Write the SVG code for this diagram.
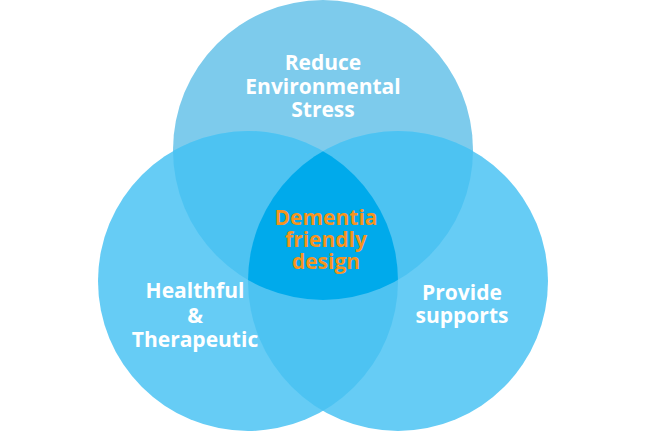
<svg xmlns="http://www.w3.org/2000/svg" width="648" height="432" viewBox="0 0 648 432">
<style>
.lbl{font-family:"Open Sans","Noto Sans","Liberation Sans",sans-serif;font-weight:700;font-size:21px;text-anchor:middle;fill:#ffffff}
.ctr{fill:#f7941d}
</style>
<defs>
<clipPath id="cT"><circle cx="323" cy="150" r="150"/></clipPath>
<clipPath id="cL"><circle cx="248" cy="281" r="150"/></clipPath>
<clipPath id="cR"><circle cx="398" cy="281" r="150"/></clipPath>
</defs>
<rect width="648" height="432" fill="#ffffff"/>
<g id="circle-top"><circle cx="323" cy="150" r="150" fill="#7dcbec"/></g>
<g id="circle-left"><circle cx="248" cy="281" r="150" fill="#66ccf5"/></g>
<g id="circle-right"><circle cx="398" cy="281" r="150" fill="#66ccf5"/></g>
<g id="overlaps">
<g clip-path="url(#cT)"><circle cx="248" cy="281" r="150" fill="#4dc3f2"/><circle cx="398" cy="281" r="150" fill="#4dc3f2"/></g>
<g clip-path="url(#cL)"><circle cx="398" cy="281" r="150" fill="#4dc3f2"/></g>
<g clip-path="url(#cT)"><g clip-path="url(#cL)"><circle cx="398" cy="281" r="150" fill="#00aaeb"/></g></g>
</g>
<g id="label-top">
<text class="lbl" x="323" y="70">Reduce</text>
<text class="lbl" x="323" y="93.5">Environmental</text>
<text class="lbl" x="323" y="117">Stress</text>
</g>
<g id="label-left">
<text class="lbl" x="195" y="298">Healthful</text>
<text class="lbl" x="195" y="322.5">&amp;</text>
<text class="lbl" x="195" y="347">Therapeutic</text>
</g>
<g id="label-right">
<text class="lbl" x="462" y="300">Provide</text>
<text class="lbl" x="462" y="323">supports</text>
</g>
<g id="label-center">
<text class="lbl ctr" x="326" y="225">Dementia</text>
<text class="lbl ctr" x="326" y="247">friendly</text>
<text class="lbl ctr" x="326" y="268.5">design</text>
</g>
</svg>
